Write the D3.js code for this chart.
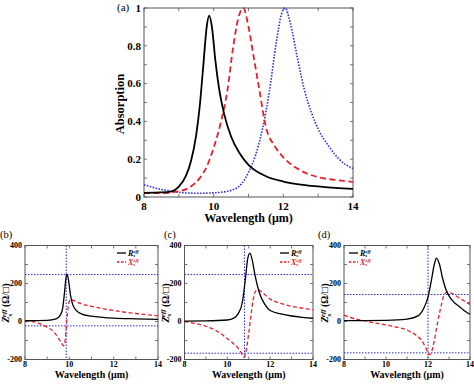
<!DOCTYPE html>
<html><head><meta charset="utf-8">
<script src="https://cdn.jsdelivr.net/npm/d3@7"></script>
<style>body{margin:0;background:#fff}svg text{font-family:"Liberation Serif","DejaVu Serif",serif;font-weight:bold}</style>
</head><body><svg id="c" width="474" height="384"></svg>
<script>
// ---- Panel (a): absorption ----
const absXTicks = [8,10,12,14];
const absYTicks = [0,0.2,0.4,0.6,0.8,1];
const absBlackX = [8,8.5,8.8,9.0,9.2,9.35,9.5,9.6,9.7,9.8,9.87,9.95,10.05,10.15,10.3,10.5,10.75,11.0,11.5,12.0,12.5,13.0,13.5,14];
const absBlackY = [0.022,0.024,0.03,0.055,0.11,0.19,0.33,0.48,0.69,0.9,0.96,0.9,0.72,0.58,0.44,0.32,0.23,0.17,0.11,0.082,0.066,0.056,0.048,0.043];
const absRedX = [8,8.5,9.0,9.3,9.6,9.8,10.0,10.2,10.4,10.55,10.7,10.85,11.0,11.15,11.3,11.5,11.75,12.0,12.5,13.0,13.5,14];
const absRedY = [0.02,0.02,0.03,0.05,0.1,0.16,0.26,0.39,0.57,0.78,0.94,1.0,0.9,0.74,0.58,0.37,0.27,0.21,0.14,0.105,0.09,0.08];
const absBlueX = [8,8.5,9.0,9.5,10.0,10.5,10.8,11.0,11.2,11.4,11.6,11.8,11.95,12.05,12.2,12.4,12.6,12.8,13.0,13.3,13.6,14];
const absBlueY = [0.065,0.04,0.025,0.02,0.022,0.035,0.07,0.13,0.22,0.36,0.56,0.82,0.97,1.0,0.92,0.74,0.57,0.45,0.36,0.27,0.2,0.15];

// ---- Panels (b)-(d): impedance ----
const zXTicks = [8,10,12,14];
const zYTicks = [-200,0,200,400];
const bRX = [8,9,9.4,9.6,9.7,9.78,9.85,9.9,9.96,10.05,10.15,10.3,10.6,11,11.5,12,13,14];
const bRY = [4,6,14,35,70,150,230,248,220,140,90,60,38,28,22,18,14,11];
const bXX = [8,8.5,9,9.3,9.5,9.65,9.75,9.8,9.85,9.9,9.95,10.05,10.2,10.5,11,11.5,12,13,14];
const bXY = [5,-5,-30,-55,-85,-115,-128,-110,-50,20,80,117,110,95,80,68,58,42,30];
const bVLine = [9.86];
const bHLines = [247,-23];

const cRX = [8,9,10,10.3,10.5,10.7,10.85,10.95,11.05,11.15,11.3,11.5,11.75,12,12.5,13,13.5,14];
const cRY = [2,3,8,18,40,100,230,330,360,330,240,150,90,58,40,29,22,17];
const cXX = [8,8.5,9,9.5,10,10.3,10.5,10.65,10.75,10.82,10.9,11.0,11.1,11.2,11.3,11.42,11.6,12,12.5,13,13.5,14];
const cXY = [0,-10,-25,-50,-90,-118,-140,-165,-188,-182,-140,-60,30,110,155,168,155,118,95,80,70,62];
const cVLine = [10.8];
const cHLines = [247,-167];

const dRX = [8,9,10,11,11.5,11.8,12.0,12.15,12.3,12.4,12.55,12.7,12.85,13.0,13.25,13.5,13.75,14];
const dRY = [5,5,6,12,28,70,128,210,300,334,300,225,170,135,100,78,55,38];
const dXX = [8,8.5,9,9.5,10,10.5,11,11.4,11.7,11.9,12.05,12.15,12.3,12.45,12.6,12.75,12.9,13.1,13.5,14];
const dXY = [33,15,3,-8,-18,-30,-45,-70,-100,-140,-175,-165,-100,-10,70,135,155,150,123,90];
const dVLine = [12.0];
const dHLines = [142,-165];

const svg = d3.select("#c");
const BLUE = "#2a2ae0", RED = "#e8202c", AXIS = "#555";

function drawFrame(g, x, y, xMinor, yMinor, tickFs, xTicks, yTicks, xLabDy) {
  const [x0,x1] = x.range(), [y0,y1] = y.range();
  const tl = 3;
  xMinor.forEach(v => {
    g.append("line").attr("x1",x(v)).attr("x2",x(v)).attr("y1",y0).attr("y2",y0-tl).attr("stroke",AXIS).attr("stroke-width",0.8);
    g.append("line").attr("x1",x(v)).attr("x2",x(v)).attr("y1",y1).attr("y2",y1+tl).attr("stroke",AXIS).attr("stroke-width",0.8);
  });
  yMinor.forEach(v => {
    g.append("line").attr("y1",y(v)).attr("y2",y(v)).attr("x1",x0).attr("x2",x0+tl).attr("stroke",AXIS).attr("stroke-width",0.8);
    g.append("line").attr("y1",y(v)).attr("y2",y(v)).attr("x1",x1).attr("x2",x1-tl).attr("stroke",AXIS).attr("stroke-width",0.8);
  });
  g.append("rect").attr("x",x0).attr("y",y1).attr("width",x1-x0).attr("height",y0-y1)
    .attr("fill","none").attr("stroke",AXIS).attr("stroke-width",1);
  xTicks.forEach(v => g.append("text").attr("x",x(v)).attr("y",y0+xLabDy).attr("text-anchor","middle")
    .attr("font-size",tickFs).text(v));
  yTicks.forEach(v => g.append("text").attr("x",x0-3).attr("y",y(v)+tickFs*0.35).attr("text-anchor","end")
    .attr("font-size",tickFs).text(String(v)));
}

function path(g, xs, ys, x, y, color, width, dash) {
  const data = xs.map((v,i)=>[v,ys[i]]);
  const line = d3.line().x(d=>x(d[0])).y(d=>y(d[1])).curve(d3.curveMonotoneX);
  g.append("path").attr("d",line(data)).attr("fill","none").attr("stroke",color)
    .attr("stroke-width",width).attr("stroke-dasharray",dash||null);
}

// Panel (a)
{
  const g = svg.append("g");
  const x = d3.scaleLinear().domain([8,14]).range([144,353]);
  const y = d3.scaleLinear().domain([0,1]).range([197,8]);
  drawFrame(g, x, y, d3.range(8,15,1), d3.range(0,1.01,0.1), 11, absXTicks, absYTicks, 13);
  path(g, absBlueX, absBlueY, x, y, BLUE, 1.6, "1.5,1.5");
  path(g, absRedX, absRedY, x, y, RED, 1.8, "6,3.5");
  path(g, absBlackX, absBlackY, x, y, "#000", 1.8);
  g.append("text").attr("x",117).attr("y",11).attr("font-size",11).style("font-weight","normal").text("(a)");
  g.append("text").attr("transform","translate(124,104) rotate(-90)").attr("text-anchor","middle").attr("font-size",12.5).text("Absorption");
  g.append("text").attr("x",248.5).attr("y",222).attr("text-anchor","middle").attr("font-size",12).text("Wavelength (μm)");
}

function zPanel(cfg) {
  const g = svg.append("g");
  const x = d3.scaleLinear().domain([8,14]).range([cfg.x0,cfg.x1]);
  const y = d3.scaleLinear().domain([-200,400]).range([359.5,245.5]);
  drawFrame(g, x, y, d3.range(8,15,1), d3.range(-200,401,100), 8, zXTicks, zYTicks, 7);
  cfg.hl.forEach(v => g.append("line").attr("x1",cfg.x0).attr("x2",cfg.x1).attr("y1",y(v)).attr("y2",y(v))
    .attr("stroke",BLUE).attr("stroke-width",1).attr("stroke-dasharray","1.5,1.5"));
  cfg.vl.forEach(v => g.append("line").attr("x1",x(v)).attr("x2",x(v)).attr("y1",245.5).attr("y2",359.5)
    .attr("stroke",BLUE).attr("stroke-width",1).attr("stroke-dasharray","1.5,1.5"));
  path(g, cfg.xx, cfg.xy, x, y, RED, 1.3, "4,2.5");
  path(g, cfg.rx, cfg.ry, x, y, "#000", 1.3);
  g.append("text").attr("x",cfg.lx).attr("y",238).attr("font-size",10.5).style("font-weight","normal").text(cfg.label);
  const yl = g.append("text").attr("transform",`translate(${cfg.x0-16},303) rotate(-90)`).attr("text-anchor","middle").attr("font-size",10);
  yl.append("tspan").style("font-style","italic").text("Z");
  yl.append("tspan").attr("dy",2.5).attr("font-size",7).text("s");
  yl.append("tspan").attr("dy",-6).attr("dx",-3.5).attr("font-size",7).style("font-style","italic").text("eff");
  yl.append("tspan").attr("dy",3.5).text(" (Ω/□)");
  g.append("text").attr("x",(cfg.x0+cfg.x1)/2).attr("y",377.5).attr("text-anchor","middle").attr("font-size",10).text("Wavelength (μm)");
  const L = cfg.leg;
  g.append("line").attr("x1",L).attr("x2",L+9).attr("y1",253).attr("y2",253).attr("stroke","#000").attr("stroke-width",1.3);
  g.append("line").attr("x1",L).attr("x2",L+9).attr("y1",262).attr("y2",262).attr("stroke",RED).attr("stroke-width",1.3).attr("stroke-dasharray","2.5,1.5");
  [["R","#000",255.5],["X",RED,264.5]].forEach(([t,c,yy]) => {
    const tx = g.append("text").attr("x",L+11).attr("y",yy).attr("font-size",8).attr("fill",c);
    tx.append("tspan").style("font-style","italic").text(t);
    tx.append("tspan").attr("dy",1.5).attr("font-size",5).text("s");
    tx.append("tspan").attr("dy",-4.5).attr("dx",-2).attr("font-size",5).style("font-style","italic").text("eff");
  });
}

zPanel({x0:25,x1:158,rx:bRX,ry:bRY,xx:bXX,xy:bXY,vl:bVLine,hl:bHLines,label:"(b)",lx:0,leg:117});
zPanel({x0:184.5,x1:313,rx:cRX,ry:cRY,xx:cXX,xy:cXY,vl:cVLine,hl:cHLines,label:"(c)",lx:164,leg:280});
zPanel({x0:344,x1:470,rx:dRX,ry:dRY,xx:dXX,xy:dXY,vl:dVLine,hl:dHLines,label:"(d)",lx:318,leg:349});
</script></body></html>
